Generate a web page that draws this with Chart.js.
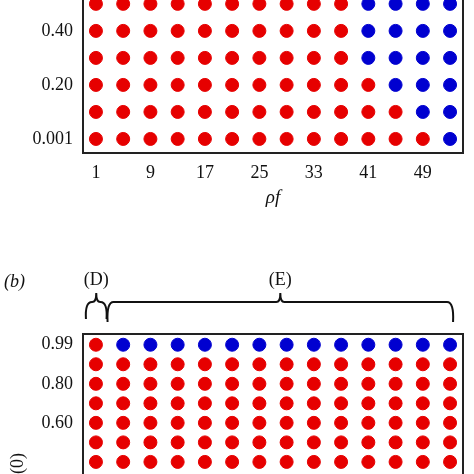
<!DOCTYPE html>
<html><head><meta charset="utf-8">
<script src="https://cdn.jsdelivr.net/npm/chart.js@4/dist/chart.umd.min.js"></script>
<style>
html,body{margin:0;padding:0;background:#fff;overflow:hidden;width:474px;height:474px;position:relative}
</style></head><body>
<div style="position:absolute;left:0;top:-40px;width:474px;height:253px"><canvas id="c1"></canvas></div>
<div style="position:absolute;left:0;top:260px;width:474px;height:300px"><canvas id="c2"></canvas></div>
<script>
// columns (rho f)
const columns = [1,5,9,13,17,21,25,29,33,37,41,45,49,53];
const xTickLabels = ['1','9','17','25','33','41','49'];
// top panel rows (bottom to top) and outcome per column (0 = red, 1 = blue)
const topRowLabels = ['0.001','','0.20','','0.40',''];
const topOutcome = [
  [0,0,0,0,0,0,0,0,0,0,0,0,0,1],
  [0,0,0,0,0,0,0,0,0,0,0,0,1,1],
  [0,0,0,0,0,0,0,0,0,0,0,1,1,1],
  [0,0,0,0,0,0,0,0,0,0,1,1,1,1],
  [0,0,0,0,0,0,0,0,0,0,1,1,1,1],
  [0,0,0,0,0,0,0,0,0,0,1,1,1,1]
];
// bottom panel rows (bottom to top)
const bottomRowLabels = ['','','','0.60','','0.80','','0.99'];
const bottomOutcome = [
  [0,0,0,0,0,0,0,0,0,0,0,0,0,0],
  [0,0,0,0,0,0,0,0,0,0,0,0,0,0],
  [0,0,0,0,0,0,0,0,0,0,0,0,0,0],
  [0,0,0,0,0,0,0,0,0,0,0,0,0,0],
  [0,0,0,0,0,0,0,0,0,0,0,0,0,0],
  [0,0,0,0,0,0,0,0,0,0,0,0,0,0],
  [0,0,0,0,0,0,0,0,0,0,0,0,0,0],
  [0,1,1,1,1,1,1,1,1,1,1,1,1,1]
];
const RED='#e60000', BLUE='#0000d0';
const FONT="'Liberation Serif', 'DejaVu Serif', serif";

function pts(outcome, val){
  const a=[];
  outcome.forEach((row,r)=>row.forEach((v,c)=>{ if(v===val) a.push({x:columns[c],y:r}); }));
  return a;
}
const frame={id:'frame',afterDraw(ch){
  const a=ch.chartArea,ctx=ch.ctx;ctx.save();ctx.strokeStyle='#222';ctx.lineWidth=2;
  ctx.strokeRect(a.left,a.top,a.right-a.left,a.bottom-a.top);ctx.restore();}};

function makeChart(id,outcome,rowLabels,ymin,ymax,padTop,showX,extra){
  return new Chart(document.getElementById(id),{
    type:'scatter',
    data:{datasets:[
      {data:pts(outcome,0),backgroundColor:RED,borderColor:RED,pointRadius:6.5,pointHoverRadius:6.5},
      {data:pts(outcome,1),backgroundColor:BLUE,borderColor:BLUE,pointRadius:6.5,pointHoverRadius:6.5}
    ]},
    options:{responsive:true,maintainAspectRatio:false,animation:false,
      layout:{padding:{top:padTop,right:11,left:0,bottom:0}},
      plugins:{legend:{display:false},tooltip:{enabled:false}},
      scales:{
        x:{type:'linear',min:-0.9,max:54.9,display:showX,
          grid:{display:false,drawTicks:true,tickLength:6,tickColor:'#222'},
          border:{display:true,color:'#222',width:2},
          afterBuildTicks(s){s.ticks=columns.map(v=>({value:v}));},
          afterFit(s){s.height=60;},
          ticks:{autoSkip:false,maxRotation:0,color:'#111',font:{family:FONT,size:18},
            callback:(v,i)=>i%2===0?xTickLabels[i/2]:''},
          title:{display:true,text:'ρf',font:{family:FONT,size:19,style:'italic'},color:'#111',padding:{top:0}}},
        y:{type:'linear',min:ymin,max:ymax,
          grid:{display:false,drawTicks:true,tickLength:6,tickColor:'#222'},
          border:{display:true,color:'#222',width:2},
          afterBuildTicks(s){s.ticks=rowLabels.map((l,i)=>({value:i})).filter((t,i)=>rowLabels[i]!=='');},
          afterFit(s){s.width=83;},
          ticks:{autoSkip:false,color:'#111',font:{family:FONT,size:18},padding:4,
            callback:(v)=>rowLabels[v]}}
      }},
    plugins:[frame].concat(extra||[])
  });
}
makeChart('c1',topOutcome,topRowLabels,-0.52,5.55,29,true);

const annot={id:'annot',afterDraw(ch){
  const ctx=ch.ctx,x=ch.scales.x;ctx.save();
  ctx.fillStyle='#111';ctx.strokeStyle='#111';ctx.lineWidth=2;
  ctx.font="italic 18px "+FONT;ctx.textBaseline='middle';ctx.textAlign='left';
  ctx.fillText('(b)',4,22);
  ctx.font="18px "+FONT;ctx.textAlign='center';
  function brace(x1,x2,yTop,yBot){
    const m=(x1+x2)/2;
    ctx.beginPath();
    ctx.moveTo(x1,yBot);ctx.quadraticCurveTo(x1-1,yTop,x1+6,yTop);
    ctx.lineTo(m-4,yTop);ctx.quadraticCurveTo(m,yTop,m,yTop-9);
    ctx.quadraticCurveTo(m,yTop,m+4,yTop);
    ctx.lineTo(x2-6,yTop);ctx.quadraticCurveTo(x2+1,yTop,x2,yBot);
    ctx.stroke();
    return m;
  }
  const xa=x.getPixelForValue(columns[0])-10, xb=(x.getPixelForValue(columns[0])+x.getPixelForValue(columns[1]))/2-3;
  const xe=x.getPixelForValue(columns[13])+3;
  const m1=brace(xa,xb,42,59); ctx.fillText('(D)',m1,20);
  const m2=brace(xb+1,xe,42,62); ctx.fillText('(E)',m2,20);
  ctx.translate(18,193);ctx.rotate(-Math.PI/2);ctx.textAlign='right';
  ctx.fillText('ρ(0)',0,0);
  ctx.restore();}};
makeChart('c2',bottomOutcome,bottomRowLabels,-0.95,7.55,74,false,[annot]);
</script></body></html>
